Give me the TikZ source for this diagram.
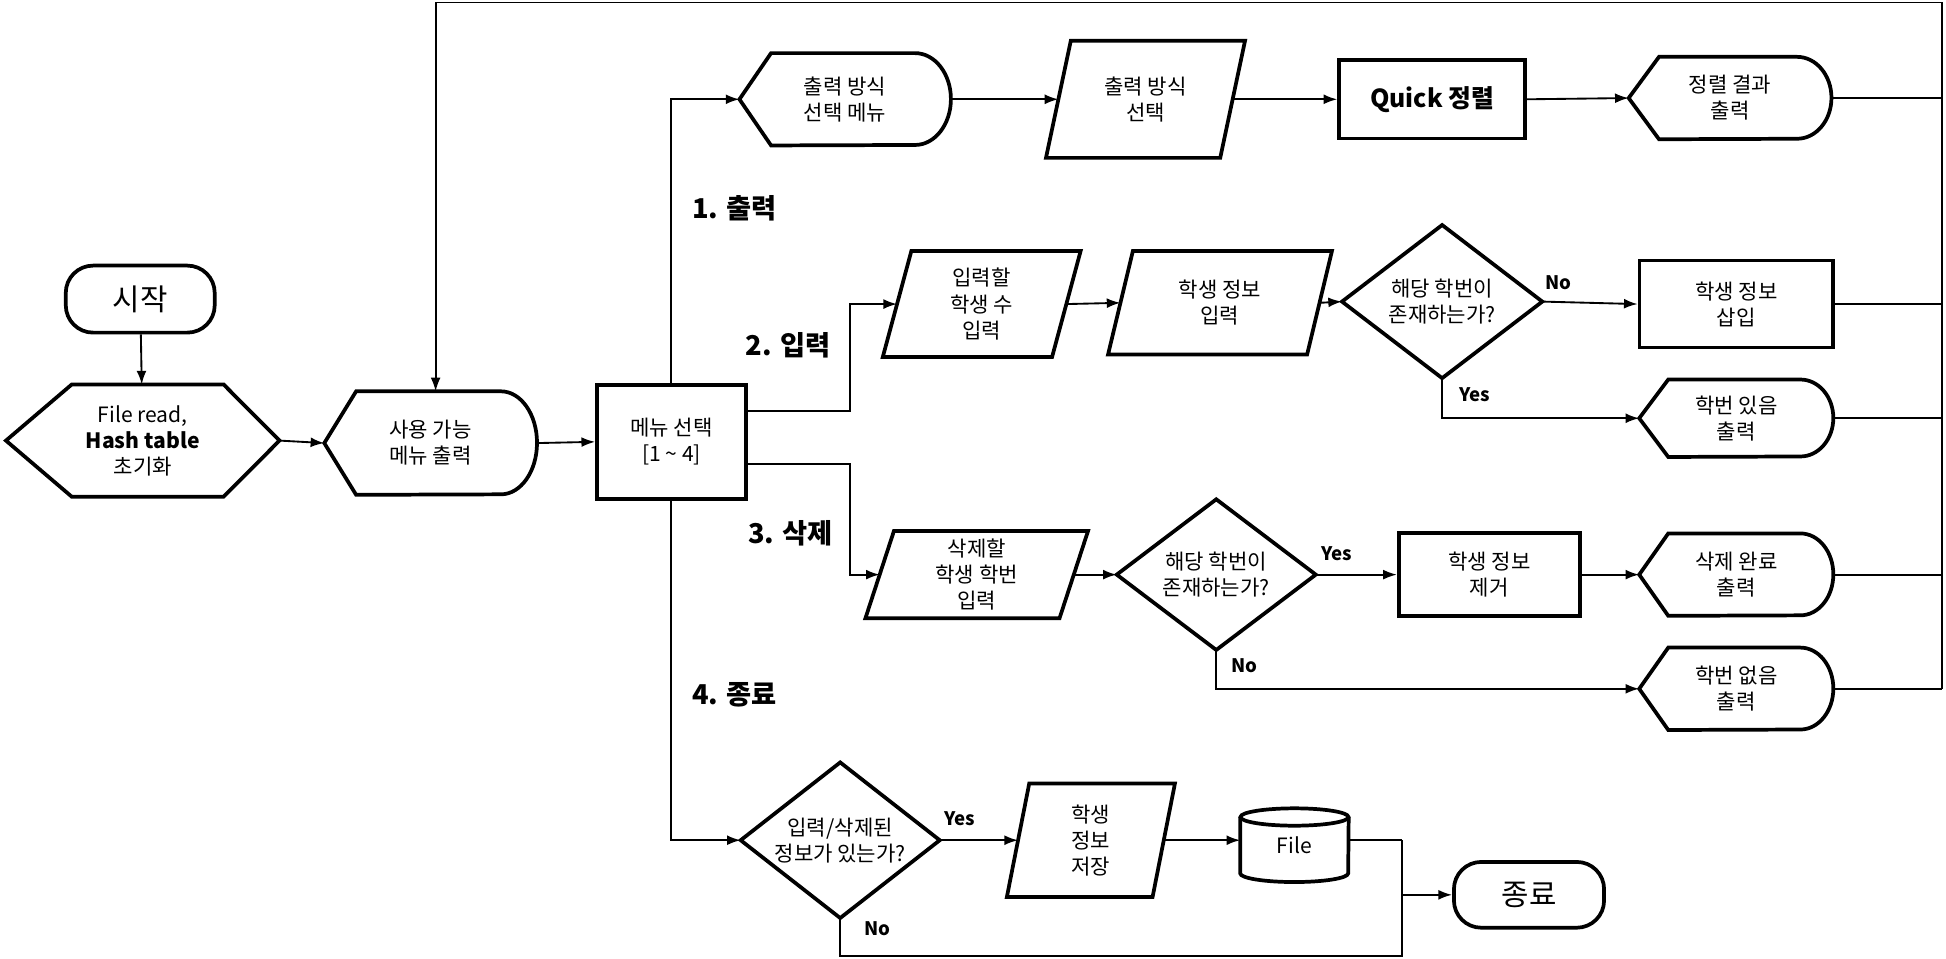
\documentclass[tikz,border=0pt]{standalone}
\usepackage{fontspec}
\setmainfont{Noto Sans CJK KR}
\usetikzlibrary{arrows.meta}
\tikzset{
 lbl/.style={font=\fontsize{17}{21}\selectfont, align=center, inner sep=0pt},
 shp/.style={line width=3pt, line join=miter},
 con/.style={line width=1.5pt},
 arr/.style={con,-{Latex[length=11pt,width=8pt]}},
 blab/.style={font=\fontsize{22}{26}\selectfont\bfseries, inner sep=0pt},
 yn/.style={font=\fontsize{15}{18}\selectfont\bfseries, inner sep=0pt},
}
\newcommand\mydisp[6]{%
 \node[lbl, minimum width=#4pt, minimum height=#5pt] (#1) at (#2,#3) {#6};
 \draw[shp] (#1.west) -- ([xshift={0.15*#4pt}]#1.north west) -- ([xshift={-0.17*#4pt}]#1.north east)
   arc[start angle=90,end angle=-90,x radius={0.17*#4pt},y radius={#5pt/2}]
   -- ([xshift={0.15*#4pt}]#1.south west) -- cycle;}
\newcommand\mypara[7]{%
 \node[lbl, minimum width=#4pt, minimum height=#5pt] (#1) at (#2,#3) {#7};
 \draw[shp] ([xshift={#6pt/2}]#1.north west) -- ([xshift={#6pt/2}]#1.north east)
   -- ([xshift={-#6pt/2}]#1.south east) -- ([xshift={-#6pt/2}]#1.south west) -- cycle;}
\newcommand\mydia[6]{%
 \node[lbl, minimum width=#4pt, minimum height=#5pt] (#1) at (#2,#3) {#6};
 \draw[shp] (#1.north) -- (#1.east) -- (#1.south) -- (#1.west) -- cycle;}
\newcommand\mybox[6]{%
 \node[lbl, draw, shp, minimum width=#4pt, minimum height=#5pt] (#1) at (#2,#3) {#6};}
\begin{document}
\begin{tikzpicture}[x=1pt,y=-1pt]
\useasboundingbox (0,0) rectangle (1568,772);
% start
\node[draw, shp, rounded corners=22pt, minimum width=120pt, minimum height=54pt, inner sep=0pt,
  font=\fontsize{24}{28}\selectfont] (start) at (113,241) {시작};
\node[lbl, minimum width=220pt, minimum height=90pt] (fr) at (115,355) {File read,\\\textbf{Hash table}\\초기화};
\draw[shp] (fr.west) -- ([xshift=53pt]fr.north west) -- ([xshift=-45pt]fr.north east) -- (fr.east)
  -- ([xshift=-45pt]fr.south east) -- ([xshift=53pt]fr.south west) -- cycle;
\mydisp{avail}{347}{357}{171}{83}{사용 가능\\메뉴 출력}
\mybox{menu}{541}{356}{120}{92}{메뉴 선택\\{[}1 \textasciitilde{} 4{]}}
% row 1
\mydisp{om}{681}{80}{170}{74}{출력 방식\\선택 메뉴}
\mypara{os}{923}{80}{140}{94}{20}{출력 방식\\선택}
\mybox{quick}{1154}{80}{150}{63}{\fontsize{20}{24}\selectfont\bfseries Quick 정렬}
\mydisp{sr}{1394}{79}{163}{66}{정렬 결과\\출력}
% row 2
\mypara{in1}{791}{245}{136}{85}{23}{입력할\\학생 수\\입력}
\mypara{in2}{983}{244}{160}{83}{20}{학생 정보\\입력}
\mydia{dia1}{1162}{243}{161}{123}{해당 학번이\\존재하는가?}
\mybox{ins}{1399}{245}{156}{70}{학생 정보\\삽입}
\mydisp{ex}{1399}{337}{156}{62}{학번 있음\\출력}
% row 3
\mypara{del1}{787}{463}{156}{70}{23}{삭제할\\학생 학번\\입력}
\mydia{dia2}{980}{463}{160}{121}{해당 학번이\\존재하는가?}
\mybox{rem}{1200}{463}{146}{67}{학생 정보\\제거}
\mydisp{dok}{1399}{463}{156}{66}{삭제 완료\\출력}
\mydisp{nh}{1399}{555}{156}{66}{학번 없음\\출력}
% row 4
\mydia{dia3}{677}{677}{160}{125}{입력/삭제된\\정보가 있는가?}
\mypara{save}{879}{677}{117}{91}{18}{학생\\정보\\저장}
\node[lbl, minimum width=87pt, minimum height=59pt] (file) at (1043,681) {File};
\draw[shp] ([yshift=-7pt]file.north west) -- ([yshift=7pt]file.south west)
  arc[start angle=180,end angle=360,x radius=43.5pt,y radius=7pt] -- ([yshift=-7pt]file.north east);
\draw[shp] ([yshift=-7pt]file.north) ellipse[x radius=43.5pt,y radius=7pt];
\node[draw, shp, rounded corners=22pt, minimum width=121pt, minimum height=53pt, inner sep=0pt,
  font=\fontsize{24}{28}\selectfont] (end) at (1232,721) {종료};
% labels
\node[blab] at (592,168) {1. 출력};
\node[blab] at (635,278) {2. 입력};
\node[blab] at (637,430) {3. 삭제};
\node[blab] at (592,560) {4. 종료};
\node[yn] at (1256,228) {No};
\node[yn] at (1188,318) {Yes};
\node[yn] at (1077,446) {Yes};
\node[yn] at (1003,536) {No};
\node[yn] at (773,660) {Yes};
\node[yn] at (707,748) {No};
% connectors
\coordinate (tr) at (1565,2);
\coordinate (tl) at (351,2);
\coordinate (br) at (1565,555);
\draw[arr] (start) -- (fr);
\draw[arr] (fr.east) -- (avail.west);
\draw[arr] (avail.east) -- (menu.west);
\draw[con] (br) -- (tr) -- (tl);
\draw[arr] (tl) -- (tl |- avail.north);
\draw[arr] (menu.north) |- (om.west);
\draw[arr] (om.east) -- (os.west);
\draw[arr] (os.east) -- (quick.west);
\draw[arr] (quick.east) -- (sr.west);
\draw[con] (sr.east) -- (sr.east -| tr);
\coordinate (m2) at (601,331);
\coordinate (m3) at (601,374);
\draw[arr] (m2) -- (685,331) |- (in1.west);
\draw[arr] (in1.east) -- (in2.west);
\draw[arr] (in2.east) -- (dia1.west);
\draw[arr] (dia1.east) -- (ins.west);
\draw[arr] (dia1.south) |- (ex.west);
\draw[con] (ins.east) -- (ins.east -| tr);
\draw[con] (ex.east) -- (ex.east -| tr);
\draw[arr] (m3) -- (685,374) |- (del1.west);
\draw[arr] (del1.east) -- (dia2.west);
\draw[arr] (dia2.east) -- (rem.west);
\draw[arr] (rem.east) -- (dok.west);
\draw[arr] (dia2.south) |- (nh.west);
\draw[con] (dok.east) -- (dok.east -| tr);
\draw[con] (nh.east) -- (br);
\draw[arr] (menu.south) |- (dia3.west);
\draw[arr] (dia3.east) -- (save.west);
\draw[arr] (save.east) -- (save.east -| file.west);
\coordinate (j) at (1130,677);
\draw[con] (file.east |- j) -- (j);
\draw[arr] (j) |- (end.west);
\draw[con] (j) -- (1130,770) -| (dia3.south);
\end{tikzpicture}
\end{document}
